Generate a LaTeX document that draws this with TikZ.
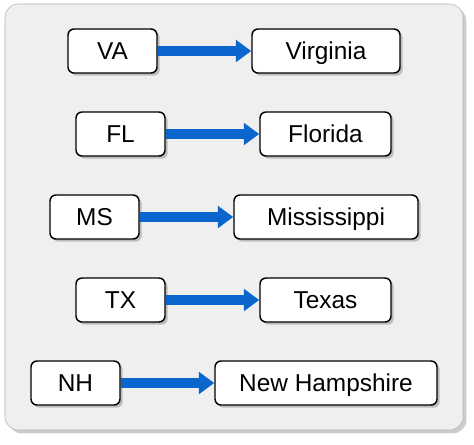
\documentclass[tikz,border=0pt]{standalone}
\usepackage{fontspec}
\setmainfont{Liberation Sans}
\usetikzlibrary{arrows.meta,shadows}
\definecolor{panelgray}{RGB}{239,239,239}
\definecolor{flowblue}{RGB}{10,102,204}
\tikzset{
  state/.style={draw=black,line width=1.1pt,fill=white,rounded corners=4.5pt,
    minimum height=33pt,inner sep=0pt,font=\fontsize{18.3}{20}\selectfont,
    text height=13.1pt,text depth=0pt,
    drop shadow={shadow xshift=2pt,shadow yshift=-2pt,opacity=0.45}},
  flow/.style={draw=flowblue,line width=7pt,-{Triangle[length=11.5pt,width=16pt]}}
}
\begin{document}
\begin{tikzpicture}[x=0.75pt,y=0.75pt,yscale=-1,xscale=1]
        \useasboundingbox (0,0) rectangle (474,444);
        % panel
        \draw [draw=gray!60,fill=panelgray,rounded corners=10pt,
          drop shadow={shadow xshift=2.5pt,shadow yshift=-2.5pt,opacity=0.4}] (5,4) rectangle (463,430);
        \node [state,minimum width=66.75pt] (va) at (112.5,51) {VA};
        \node [state,minimum width=111pt] (virginia) at (326,51) {Virginia};
        \node [state,minimum width=66.75pt] (fl) at (120.5,134) {FL};
        \node [state,minimum width=98.25pt] (florida) at (325.5,134) {Florida};
        \node [state,minimum width=66.75pt] (ms) at (94.5,217) {MS};
        \node [state,minimum width=138pt] (mississippi) at (326,217) {Mississippi};
        \node [state,minimum width=66.75pt] (tx) at (120.5,300) {TX};
        \node [state,minimum width=98.25pt] (texas) at (325.5,300) {Texas};
        \node [state,minimum width=66.75pt] (nh) at (75.5,383) {NH};
        \node [state,minimum width=166.5pt] (newhampshire) at (326,383) {New Hampshire};
        \draw [flow] (va) -- (virginia);
        \draw [flow] (fl) -- (florida);
        \draw [flow] (ms) -- (mississippi);
        \draw [flow] (tx) -- (texas);
        \draw [flow] (nh) -- (newhampshire);
\end{tikzpicture}
\end{document}
